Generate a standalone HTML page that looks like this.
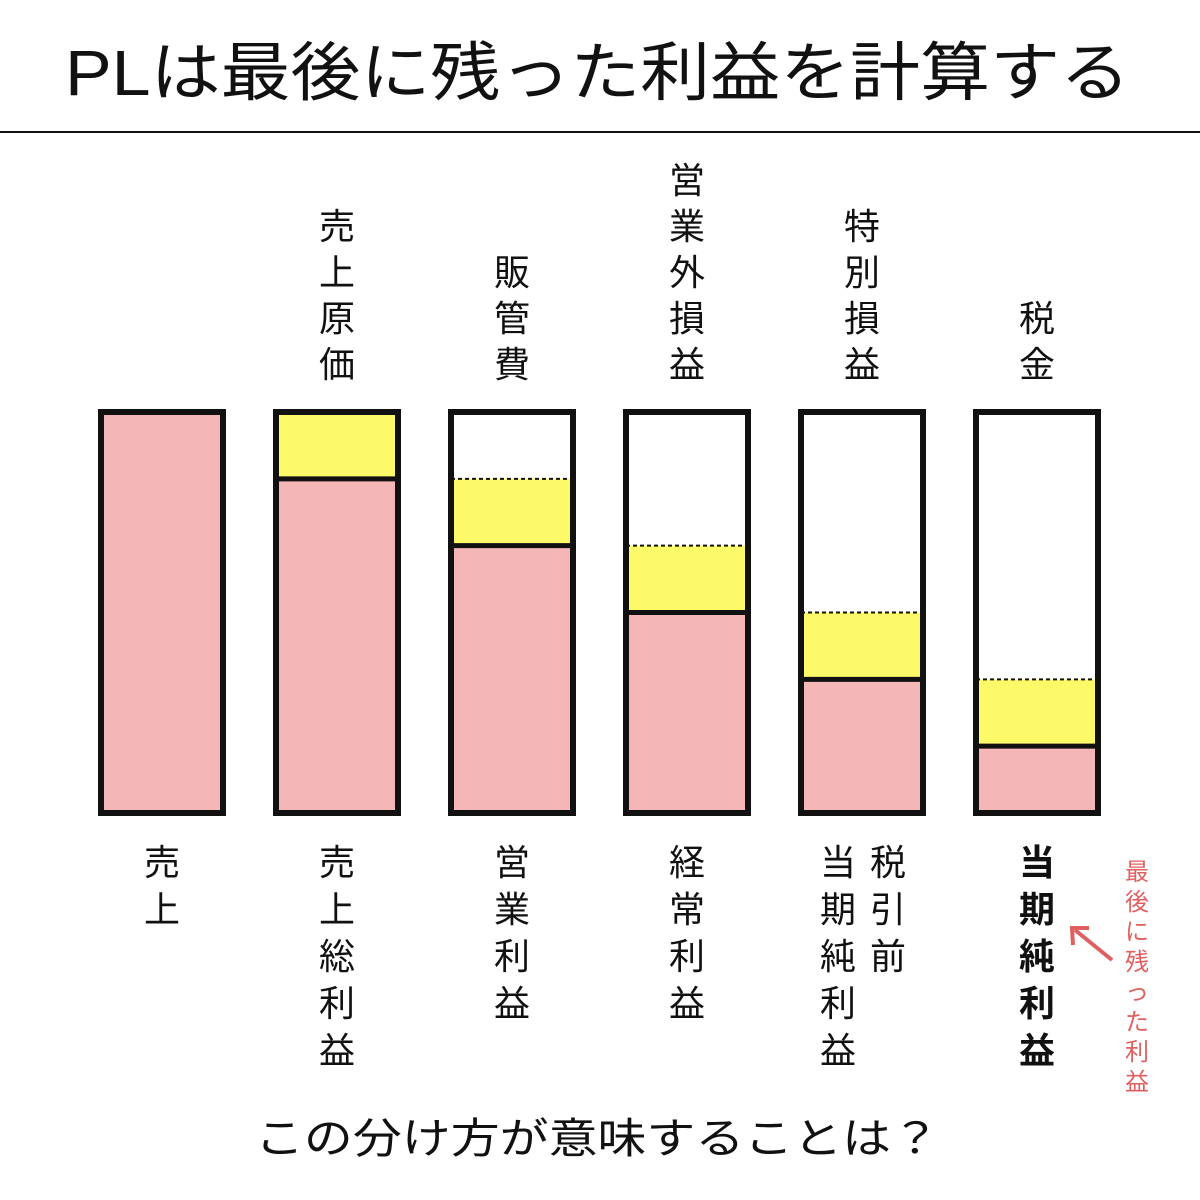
<!DOCTYPE html>
<html><head><meta charset="utf-8">
<style>
body{margin:0;background:#fff;}
svg{display:block;font-family:"Liberation Sans","Noto Sans CJK JP",sans-serif;}
</style></head>
<body>
<svg id="chart" width="1200" height="1200" viewBox="0 0 1200 1200">
<text x="65" y="95" font-size="64" fill="#111" textLength="1065" lengthAdjust="spacingAndGlyphs">PLは最後に残った利益を計算する</text>
<line x1="0" y1="132" x2="1200" y2="132" stroke="#111" stroke-width="2"/>
<g id="bars"></g>
<g id="labels"></g>
<g>
<text x="1137" y="880" text-anchor="middle" font-size="24" fill="#e06060">
<tspan x="1137" dy="0">最</tspan><tspan x="1137" dy="30">後</tspan><tspan x="1137" dy="30">に</tspan><tspan x="1137" dy="30">残</tspan><tspan x="1137" dy="30">っ</tspan><tspan x="1137" dy="30">た</tspan><tspan x="1137" dy="30">利</tspan><tspan x="1137" dy="30">益</tspan></text>
<line x1="1112" y1="960" x2="1075" y2="930" stroke="#e06060" stroke-width="4"/>
<polyline points="1073,945 1072,928 1089,928" fill="none" stroke="#e06060" stroke-width="4"/>
</g>
<text x="255" y="1153" font-size="42" fill="#111" textLength="685" lengthAdjust="spacingAndGlyphs">この分け方が意味することは？</text>
</svg>
<script>
const categories = ["売上","売上原価","販管費","営業外損益","特別損益","税金"];
const remaining = [6,5,4,3,2,1];
const deduction = [0,1,1,1,1,1];
const topLabels = ["","売上原価","販管費","営業外損益","特別損益","税金"];
const bottomLabels = ["売上","売上総利益","営業利益","経常利益","当期純利益","当期純利益"];
const extraLabels = ["","","","","税引前",""];
const totalMax = 6;

const NS="http://www.w3.org/2000/svg";
const barsG=document.getElementById('bars');
const labelsG=document.getElementById('labels');
const top0=412, bottom0=813;
function y(v){return bottom0-(v/totalMax)*(bottom0-top0);}
function xLeft(i){return 101+i*175;}
const bw=122;
function mk(tag,attrs,parent){const e=document.createElementNS(NS,tag);for(const k in attrs)e.setAttribute(k,attrs[k]);parent.appendChild(e);return e;}
function vtext(str,cx,lastY,size,weight,parent,name){
  const n=str.length;
  for(let j=0;j<n;j++){
    const t=mk('text',{x:cx,y:lastY-(n-1-j)*46,'text-anchor':'middle','font-size':size,'font-weight':weight,fill:'#111'},parent);
    
    
    t.textContent=str[j];
  }
}
function vtextDown(str,cx,firstY,size,weight,parent,name){
  for(let j=0;j<str.length;j++){
    const t=mk('text',{x:cx,y:firstY+j*47,'text-anchor':'middle','font-size':size,'font-weight':weight,fill:'#111'},parent);
    
    
    t.textContent=str[j];
  }
}
categories.forEach((c,i)=>{
  const x=xLeft(i);
  const g=mk('g',{},barsG);
  
  
  const pink=mk('rect',{x:x,y:y(remaining[i]),width:bw,height:y(0)-y(remaining[i]),fill:'#f4b6b6'},g);
  
  
  if(deduction[i]>0){
    const top=remaining[i]+deduction[i];
    const yl=mk('rect',{x:x,y:y(top),width:bw,height:y(remaining[i])-y(top),fill:'#fdfa6a'},g);
    
    
    if(top<totalMax){
      const d=mk('line',{x1:x,x2:x+bw,y1:y(top),y2:y(top),stroke:'#111','stroke-width':2,'stroke-dasharray':'4,3'},g);
      
      
    }
    const s=mk('line',{x1:x,x2:x+bw,y1:y(remaining[i]),y2:y(remaining[i]),stroke:'#111','stroke-width':5},g);
    
    
  }
  const o=mk('rect',{x:x,y:y(totalMax),width:bw,height:y(0)-y(totalMax),fill:'none',stroke:'#111','stroke-width':6},g);
  
  
  const cx=x+bw/2;
  if(topLabels[i]) vtext(topLabels[i],cx,377,36,'normal',labelsG,'top-label-'+(i+1));
  if(extraLabels[i]){
    vtextDown(extraLabels[i],cx+26,875,36,'normal',labelsG,'extra-label-'+(i+1));
    vtextDown(bottomLabels[i],cx-24,875,36,'normal',labelsG,'bottom-label-'+(i+1));
  } else {
    vtextDown(bottomLabels[i],cx,875,36,i===5?'bold':'normal',labelsG,'bottom-label-'+(i+1));
  }
});
</script>
</body></html>
